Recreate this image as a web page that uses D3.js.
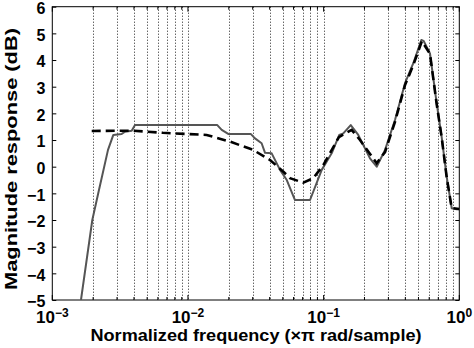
<!DOCTYPE html>
<html><head><meta charset="utf-8">
<script src="https://cdn.jsdelivr.net/npm/d3@7"></script>
<style>
body{margin:0;background:#fff}
svg{display:block}
text{font-family:"Liberation Sans",Arial,Helvetica,sans-serif;font-weight:bold;fill:#000}
</style>
</head><body><svg id="c" width="474" height="348"></svg>
<script>
// Solid (gray) response
const solidFreq = [1.627e-3, 1.972e-3, 2.183e-3, 2.574e-3, 2.817e-3, 3.248e-3, 3.435e-3, 3.848e-3, 4.07e-3,
  1.645e-2, 1.773e-2, 1.98e-2, 2.90e-2, 3.12e-2, 3.49e-2, 3.70e-2, 4.14e-2, 4.77e-2, 5.35e-2, 6.15e-2,
  7.94e-2, 9.68e-2, 0.1146, 0.1304, 0.1396, 0.1584, 0.18, 0.2196, 0.2462, 0.2836, 0.3357, 0.398, 0.458,
  0.525, 0.545, 0.608, 0.681, 0.741, 0.807, 0.879, 0.957, 1.0];
const solidDb = [-5.0, -2.0, -0.99, 0.63, 1.19, 1.23, 1.31, 1.35, 1.56,
  1.56, 1.38, 1.23, 1.23, 1.06, 0.88, 0.52, 0.50, -0.12, -0.50, -1.25,
  -1.25, -0.12, 0.50, 1.19, 1.25, 1.56, 1.19, 0.31, 0.0, 0.63, 1.75, 3.13, 3.88,
  4.75, 4.72, 4.25, 2.38, 1.12, -0.37, -1.56, -1.6, -1.6];

// Dashed (black) response
const dashFreq = [1.952e-3, 3.935e-3, 6.54e-3, 1.374e-2, 2.04e-2, 3.02e-2, 4.03e-2, 5.05e-2, 5.65e-2,
  7.08e-2, 8.39e-2, 9.94e-2, 0.1297, 0.161, 0.1854, 0.246, 0.2836, 0.3357, 0.398, 0.458, 0.53,
  0.608, 0.681, 0.741, 0.807, 0.879, 1.0];
const dashDb = [1.34, 1.35, 1.27, 1.19, 0.94, 0.63, 0.25, -0.19, -0.43,
  -0.60, -0.43, 0.06, 1.11, 1.38, 1.0, 0.13, 0.55, 1.68, 3.06, 3.81, 4.71,
  4.23, 2.35, 1.11, -0.39, -1.55, -1.59];

const xMajor = [1e-3, 1e-2, 1e-1, 1];
const xExp = ["\u22123", "\u22122", "\u22121", "0"];
const yTicks = [-5, -4, -3, -2, -1, 0, 1, 2, 3, 4, 5, 6];

const W = 474, H = 348, m = {l: 52.3, r: 14.7, t: 6.7, b: 48};
const svg = d3.select("#c");
const x = d3.scaleLog().domain([1e-3, 1]).range([m.l, W - m.r]);
const y = d3.scaleLinear().domain([-5, 6]).range([H - m.b, m.t]);

svg.append("defs").append("clipPath").attr("id", "clip")
  .append("rect").attr("x", m.l).attr("y", m.t)
  .attr("width", W - m.l - m.r).attr("height", H - m.t - m.b);

// vertical dotted grid
const allX = x.ticks();
svg.append("g").selectAll("line").data(allX.filter(d => d > 1e-3 * 1.001 && d < 0.999))
  .join("line")
  .attr("x1", d => Math.round(x(d)) + 0.5).attr("x2", d => Math.round(x(d)) + 0.5)
  .attr("y1", m.t).attr("y2", H - m.b)
  .attr("stroke", "#222").attr("stroke-width", 1).attr("stroke-dasharray", "1,2");

// axes (ticks inside)
const isMajor = d => xMajor.some(v => Math.abs(v - d) / v < 1e-6);
const gBottom = svg.append("g").attr("transform", `translate(0,${H - m.b})`);
gBottom.selectAll("line").data(allX).join("line")
  .attr("x1", d => x(d)).attr("x2", d => x(d)).attr("y1", 0).attr("y2", d => isMajor(d) ? -5 : -3)
  .attr("stroke", "#000");
const gTop = svg.append("g").attr("transform", `translate(0,${m.t})`);
gTop.selectAll("line").data(allX).join("line")
  .attr("x1", d => x(d)).attr("x2", d => x(d)).attr("y1", 0).attr("y2", d => isMajor(d) ? 5 : 3)
  .attr("stroke", "#000");

const yAxisL = d3.axisLeft(y).tickValues(yTicks).tickSizeInner(-4).tickSizeOuter(0).tickPadding(7)
  .tickFormat(d3.format("d"));
const gl = svg.append("g").attr("transform", `translate(${m.l},0)`).call(yAxisL);
gl.select(".domain").remove();
gl.selectAll("text").attr("font-size", 16).attr("font-family", null).attr("dy", "0.42em");
const yAxisR = d3.axisRight(y).tickValues(yTicks).tickSizeInner(-4).tickSizeOuter(0).tickFormat("");
const gr = svg.append("g").attr("transform", `translate(${W - m.r},0)`).call(yAxisR);
gr.select(".domain").remove();
svg.selectAll(".tick line").attr("stroke", "#000");

// box
svg.append("rect").attr("x", m.l).attr("y", m.t).attr("width", W - m.l - m.r).attr("height", H - m.t - m.b)
  .attr("fill", "none").attr("stroke", "#000").attr("stroke-width", 1);

// x tick labels
const xl = svg.append("g");
xMajor.forEach((v, i) => {
  const t = xl.append("text").attr("x", x(v)).attr("y", 323).attr("text-anchor", "middle").attr("font-size", 17);
  t.append("tspan").text("10");
  t.append("tspan").attr("font-size", 12).attr("dy", -6).text(xExp[i]);
});

// lines
const line = d3.line().x(d => x(d[0])).y(d => y(d[1]));
const plot = svg.append("g").attr("clip-path", "url(#clip)");
plot.append("path").datum(solidFreq.map((f, i) => [f, solidDb[i]]))
  .attr("d", line).attr("fill", "none").attr("stroke", "#555").attr("stroke-width", 2)
  .attr("stroke-linejoin", "round");
plot.append("path").datum(dashFreq.map((f, i) => [f, dashDb[i]]))
  .attr("d", line).attr("fill", "none").attr("stroke", "#000").attr("stroke-width", 2.6)
  .attr("stroke-dasharray", "9,5");

// axis labels
svg.append("text").attr("x", 256).attr("y", 341).attr("text-anchor", "middle").attr("font-size", 16)
  .attr("textLength", 331).attr("lengthAdjust", "spacingAndGlyphs")
  .text("Normalized frequency (\u00d7\u03c0 rad/sample)");
svg.append("text").attr("transform", "translate(17,159) rotate(-90)").attr("text-anchor", "middle")
  .attr("font-size", 16).attr("textLength", 262).attr("lengthAdjust", "spacingAndGlyphs")
  .text("Magnitude response (dB)");
</script>
</body></html>
